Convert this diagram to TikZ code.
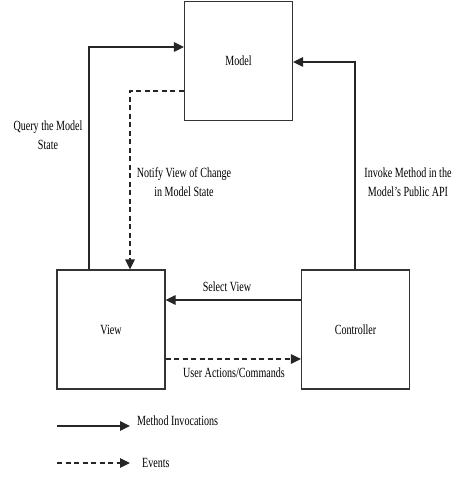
\documentclass[tikz,border=0pt]{standalone}
\usepackage{fontspec}
\setmainfont[FakeStretch=0.72]{Liberation Serif}
\usetikzlibrary{arrows.meta}
\begin{document}
\begin{tikzpicture}[x=1pt,y=-1pt,
  box/.style={draw=black!80,line width=1.1pt,minimum width=108pt,minimum height=119pt,inner sep=0pt,font=\fontsize{14}{16}\selectfont},
  lbl/.style={font=\fontsize{14}{19}\selectfont,align=center,inner sep=0pt},
  conn/.style={draw=black!85,line width=1.1pt,-{Triangle[length=10pt,width=9.5pt]}},
  evt/.style={conn,dash pattern=on 5pt off 3.5pt}]
\useasboundingbox (0,0) rectangle (474,481);
\node[box] (model) at (238.5,61) {Model};
\node[box] (view) at (111,329.5) {View};
\node[box] (ctrl) at (355.5,329.5) {Controller};
% connectors
\draw[conn] (view.north -| 89,0) |- (model.west |- 0,47);
\draw[evt] (model.west |- 0,91) -| (view.north -| 130,0);
\draw[conn] (ctrl.north -| 355,0) |- (model.east |- 0,62);
\draw[conn] (ctrl.west |- 0,300) -- (view.east |- 0,300);
\draw[evt] (view.east |- 0,359) -- (ctrl.west |- 0,359);
% labels
\node[lbl] (lq) at (48,135.5) {Query the Model\\State};
\node[lbl] (ln) at (184,182) {Notify View of Change\\in Model State};
\node[lbl] (li) at (408,182) {Invoke Method in the\\Model's Public API};
\node[lbl] (ls) at (227,287) {Select View};
\node[lbl] (lu) at (234,373) {User Actions/Commands};
% legend
\coordinate (m0) at (57,426);
\coordinate (m1) at (130,426);
\coordinate (e0) at (57,463);
\coordinate (e1) at (130,463);
\draw[conn] (m0) -- (m1);
\draw[evt] (e0) -- (e1);
\node[lbl,anchor=west] (lm) at (137,421) {Method Invocations};
\node[lbl,anchor=west] (le) at (142,463) {Events};
\end{tikzpicture}
\end{document}
